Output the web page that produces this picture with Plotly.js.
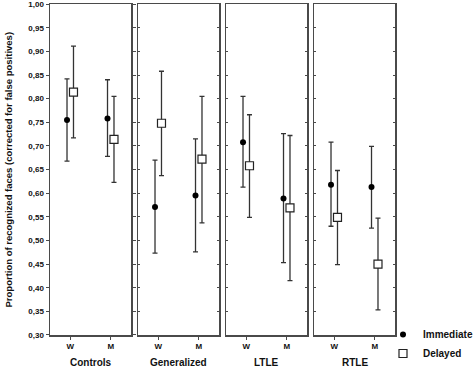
<!DOCTYPE html>
<html>
<head>
<meta charset="utf-8">
<script src="https://cdn.plot.ly/plotly-3.0.1.min.js"></script>
<style>html,body{margin:0;padding:0;background:#fff;}#chart{width:474px;height:367px;}</style>
</head>
<body>
<div id="chart"></div>
<script>
var groups = ["Controls", "Generalized", "LTLE", "RTLE"];
var conditions = ["W", "M"];
// Immediate: mean, upper, lower per group for [W, M]
var immMean  = [[0.755, 0.758], [0.571, 0.595], [0.708, 0.589], [0.618, 0.613]];
var immUpper = [[0.842, 0.840], [0.670, 0.715], [0.805, 0.726], [0.708, 0.699]];
var immLower = [[0.668, 0.678], [0.473, 0.476], [0.613, 0.453], [0.530, 0.526]];
// Delayed
var delMean  = [[0.814, 0.714], [0.748, 0.672], [0.658, 0.569], [0.549, 0.450]];
var delUpper = [[0.911, 0.805], [0.858, 0.805], [0.766, 0.722], [0.648, 0.547]];
var delLower = [[0.717, 0.623], [0.637, 0.537], [0.549, 0.415], [0.449, 0.353]];
var yTickVals = [0.30,0.35,0.40,0.45,0.50,0.55,0.60,0.65,0.70,0.75,0.80,0.85,0.90,0.95,1.00];
var yTickText = ["0,30","0,35","0,40","0,45","0,50","0,55","0,60","0,65","0,70","0,75","0,80","0,85","0,90","0,95","1,00"];

var lineCol = "#333333";
var frameCol = "#4a4a4a";
var off = 0.08;
var fontFam = "Liberation Sans, Arial, sans-serif";
var yRange = [0.2999, 1.0003];

var traces = [];
var layout = {
  width: 474, height: 367,
  margin: {l: 50, r: 79, t: 4, b: 32, autoexpand: false},
  paper_bgcolor: "#fff", plot_bgcolor: "#fff",
  font: {family: fontFam, color: "#111", size: 8},
  showlegend: true,
  legend: {xref: "container", yref: "container", x: 383 / 474, xanchor: "left",
           y: 1 - 320 / 367, yanchor: "top",
           font: {family: fontFam, size: 10, weight: "bold", color: "#111"},
           tracegroupgap: 0, itemwidth: 30, bgcolor: "rgba(0,0,0,0)"},
  annotations: [],
  yaxis: {range: yRange, tickvals: yTickVals, ticktext: yTickText,
          ticks: "outside", ticklen: 3, tickwidth: 1, tickcolor: frameCol,
          ticklabeloverflow: "allow",
          showline: true, linecolor: frameCol, linewidth: 1.5, mirror: "ticks",
          showgrid: false, zeroline: false,
          tickfont: {family: fontFam, size: 8, weight: "bold", color: "#111"}}
};

var panelW = 81, gap = 7, plotW = 345;
for (var g = 0; g < groups.length; g++) {
  var ax = g === 0 ? "" : String(g + 1);
  var x0 = g * (panelW + gap) / plotW;
  var x1 = Math.min(1, (g * (panelW + gap) + panelW) / plotW);
  layout["xaxis" + ax] = {
    domain: [x0, x1], range: [-0.5, 1.5],
    tickvals: [0, 1], ticktext: conditions,
    ticks: "outside", ticklen: 3, tickwidth: 1, tickcolor: frameCol,
    showline: true, linecolor: frameCol, linewidth: 1.5, mirror: true,
    showgrid: false, zeroline: false, fixedrange: true,
    tickfont: {family: fontFam, size: 8, weight: "bold", color: "#111"}
  };
  if (g > 0) {
    layout["yaxis" + ax] = {
      anchor: "x" + ax, matches: "y", range: yRange,
      tickvals: yTickVals, ticks: "inside", ticklen: 2, tickwidth: 1, tickcolor: frameCol,
      showticklabels: false,
      showline: true, linecolor: frameCol, linewidth: 1.5, mirror: "ticks",
      showgrid: false, zeroline: false
    };
  }
  layout.annotations.push({
    text: groups[g], xref: "x" + ax + " domain", yref: "paper",
    x: 0.5, y: -0.082, xanchor: "center", yanchor: "middle", showarrow: false,
    font: {family: fontFam, size: 10, weight: "bold", color: "#111"}
  });

  var immPlus = [], immMinus = [], delPlus = [], delMinus = [];
  for (var c = 0; c < 2; c++) {
    immPlus.push(immUpper[g][c] - immMean[g][c]);
    immMinus.push(immMean[g][c] - immLower[g][c]);
    delPlus.push(delUpper[g][c] - delMean[g][c]);
    delMinus.push(delMean[g][c] - delLower[g][c]);
  }
  traces.push({
    type: "scatter", mode: "markers", name: "Immediate",
    showlegend: g === 0,
    xaxis: "x" + ax, yaxis: "y" + ax,
    x: [0 - off, 1 - off], y: immMean[g],
    marker: {symbol: "circle", size: 6, color: "#000", line: {width: 0}},
    error_y: {type: "data", symmetric: false, array: immPlus, arrayminus: immMinus,
              color: lineCol, thickness: 1.3, width: 2.5},
    cliponaxis: false
  });
  traces.push({
    type: "scatter", mode: "markers", name: "Delayed",
    showlegend: g === 0,
    xaxis: "x" + ax, yaxis: "y" + ax,
    x: [0 + off, 1 + off], y: delMean[g],
    marker: {symbol: "square", size: 8, color: "#fff", line: {width: 1.2, color: "#222"}},
    error_y: {type: "data", symmetric: false, array: delPlus, arrayminus: delMinus,
              color: lineCol, thickness: 1.3, width: 2.5},
    cliponaxis: false
  });
}

layout.annotations.push({
  text: "Proportion of recognized faces (corrected for false positives)",
  xref: "paper", yref: "paper", x: -42 / plotW, y: 0.5,
  xanchor: "center", yanchor: "middle", textangle: -90, showarrow: false,
  font: {family: fontFam, size: 9.5, weight: "bold", color: "#111"}
});

Plotly.newPlot("chart", traces, layout, {displayModeBar: false, staticPlot: true});
</script>
</body>
</html>
